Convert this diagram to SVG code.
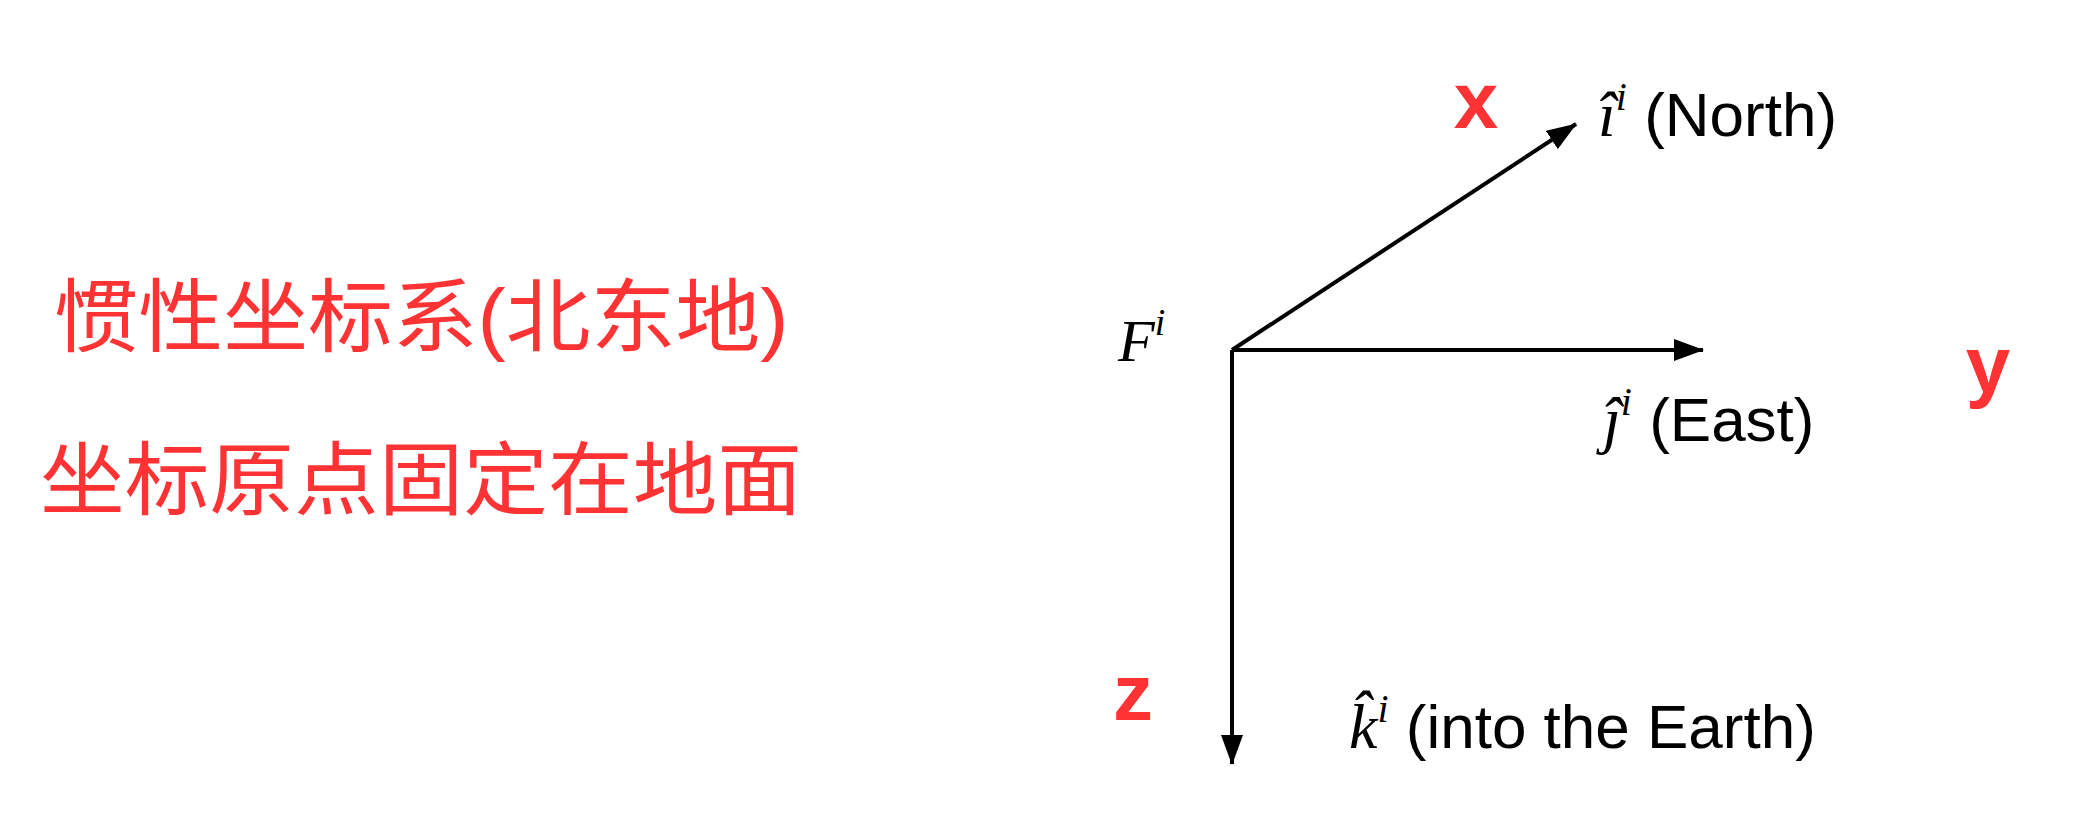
<svg xmlns="http://www.w3.org/2000/svg" width="2084" height="820" viewBox="0 0 2084 820">
<style>
.red{fill:#FF3333;font-family:"Liberation Sans","Noto Sans CJK SC",sans-serif}
.cn{font-size:80px;text-anchor:middle}
.ax{font-size:80px;font-weight:bold}
.lbl{font-family:"Liberation Sans",sans-serif;font-size:62px;fill:#000}
.m{font-family:"Liberation Serif",serif;font-style:italic}
.ln{stroke:#000;stroke-width:4;fill:none}
</style>
<defs>
<marker id="a" markerWidth="30" markerHeight="22" refX="29" refY="11" orient="auto" markerUnits="userSpaceOnUse"><path d="M0,0 L30,11 L0,22 Z" fill="#000"/></marker>
</defs>
<g id="title"><text class="red cn" x="421" y="345" textLength="735" lengthAdjust="spacingAndGlyphs">惯性坐标系(北东地)</text>
<text class="red cn" x="421" y="508" textLength="762" lengthAdjust="spacingAndGlyphs">坐标原点固定在地面</text></g>
<g id="connectors">
<line class="ln" x1="1232" y1="350" x2="1576" y2="124" marker-end="url(#a)"/>
<line class="ln" x1="1232" y1="350" x2="1703" y2="350" marker-end="url(#a)"/>
<line class="ln" x1="1232" y1="350" x2="1232" y2="764" marker-end="url(#a)"/>
</g>
<g id="origin"><text class="lbl" x="1118" y="361"><tspan class="m" font-size="60">F</tspan><tspan class="m" font-size="38" dy="-26">i</tspan></text></g>
<g id="xaxis"><text class="red ax" x="1476" y="128" text-anchor="middle">x</text>
<text class="lbl" x="1598" y="136"><tspan class="m" font-size="64">î</tspan><tspan class="m" font-size="40" dy="-26">i</tspan><tspan dy="26"> (North)</tspan></text></g>
<g id="yaxis"><text class="red ax" x="1988" y="392" text-anchor="middle">y</text>
<text class="lbl" x="1603" y="441"><tspan class="m" font-size="64">ĵ</tspan><tspan class="m" font-size="40" dy="-26">i</tspan><tspan dy="26"> (East)</tspan></text></g>
<g id="zaxis"><text class="red ax" x="1133" y="720" text-anchor="middle">z</text>
<text class="lbl" x="1349" y="748"><tspan class="m" font-size="64">k̂</tspan><tspan class="m" font-size="40" dy="-26">i</tspan><tspan dy="26"> (into the Earth)</tspan></text></g>
</svg>
